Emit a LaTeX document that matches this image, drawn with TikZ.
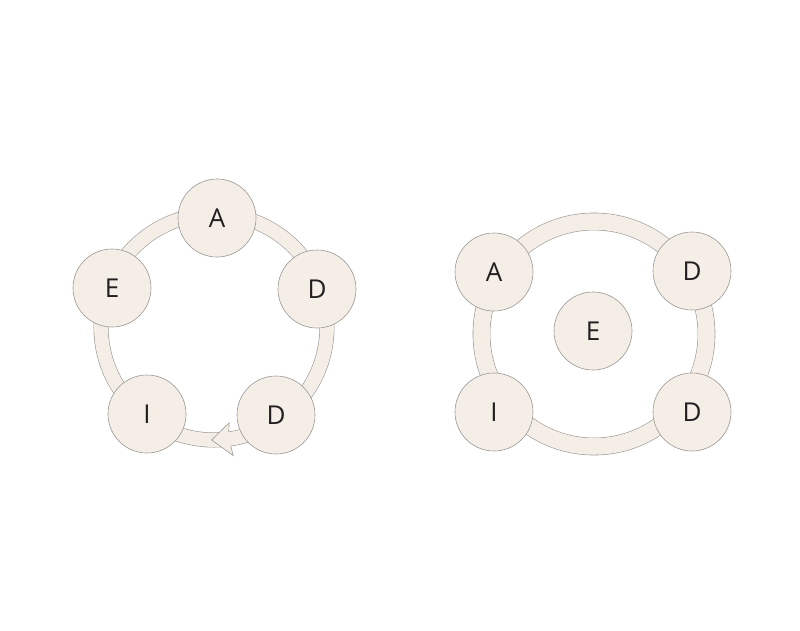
\documentclass[tikz,border=0pt]{standalone}
\usepackage{fontspec}
\setmainfont{Open Sans}
\usetikzlibrary{calc}
\definecolor{fillcol}{HTML}{F4EEE7}
\definecolor{linecol}{HTML}{9C9894}
\definecolor{txtcol}{HTML}{231F20}
\begin{document}
\begin{tikzpicture}[x=1pt,y=-1pt,
  bubble/.style={circle,draw=linecol,fill=fillcol,line width=0.6pt,minimum size=78pt,inner sep=0pt,
    text=txtcol,font=\fontsize{26}{30}\selectfont},
  band/.style={draw=linecol,line width=0.6pt,double=fillcol}]
\useasboundingbox (0,0) rectangle (800,630);
\fill[white] (0,0) rectangle (800,630);
% ---- left cycle ----
\coordinate (lc) at (214,327);
\draw[band,double distance=13.8pt] (lc) circle (113);
\fill[fillcol] ($(lc)+(82:105.6)$) -- ($(lc)+(81:97)$) -- ($(lc)+(91.2:113)$) -- ($(lc)+(81.5:130)$) -- ($(lc)+(82:120.4)$) -- cycle;
\draw[linecol,line width=0.6pt,line join=miter] ($(lc)+(82:105.6)$) -- ($(lc)+(81:97)$) -- ($(lc)+(91.2:113)$) -- ($(lc)+(81.5:130)$) -- ($(lc)+(82:120.4)$);
\node[bubble] (la) at (217,218) {A};
\node[bubble] (ld1) at (317,289) {D};
\node[bubble] (ld2) at (276,415) {D};
\node[bubble] (li) at (147,414) {I};
\node[bubble] (le) at (112,288) {E};
% ---- right cycle ----
\coordinate (rc) at (594,334);
\draw[band,double distance=16.5pt] (rc) circle (112.5);
\node[bubble] (ra) at (494,272) {A};
\node[bubble] (rd1) at (692,271) {D};
\node[bubble] (ri) at (494,412) {I};
\node[bubble] (rd2) at (692,412) {D};
\node[bubble] (re) at (593,331) {E};
\end{tikzpicture}
\end{document}
